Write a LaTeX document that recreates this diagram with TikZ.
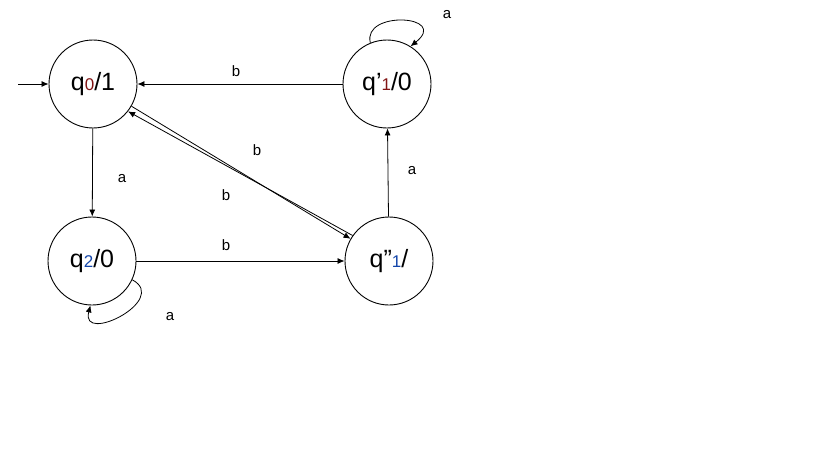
\documentclass[tikz,border=0pt]{standalone}
\usepackage{fontspec}
\setmainfont{Liberation Sans}
\usetikzlibrary{arrows.meta}
\begin{document}
\begin{tikzpicture}[x=1pt,y=-1pt,
  st/.style={circle,draw,line width=0.9pt,minimum size=88pt,inner sep=0pt,font=\fontsize{25}{25}\selectfont},
  lbl/.style={font=\fontsize{15}{15}\selectfont},
  ar/.style={-{Latex[length=7pt,width=6pt]},line width=0.8pt}]
\useasboundingbox (0,0) rectangle (819,460);
\definecolor{sr}{RGB}{130,20,20}\definecolor{sb}{RGB}{20,70,170}
\node[st] (q0) at (93,84) {q{\fontsize{17}{17}\selectfont\color{sr}0}/1};
\node[st] (q1a) at (387,84) {q'{\fontsize{17}{17}\selectfont\color{sr}1}/0};
\node[st] (q2) at (92,261) {q{\fontsize{17}{17}\selectfont\color{sb}2}/0};
\node[st] (q1b) at (389,261) {q''{\fontsize{17}{17}\selectfont\color{sb}1}/};
\coordinate (init) at (18,84);
\draw[ar] (init) -- (q0);
\draw[ar] (q0) -- (q2);
\draw[ar] (q2) -- (q1b);
\draw[ar] (q1b) -- (q1a);
\draw[ar] (q1a) -- (q0);
\draw[ar] (q0.-30) -- (q1b.150);
\draw[ar] (q1b.145) -- (q0.-38);
\draw[ar] (q1a.112) .. controls (362,10) and (450,15) .. (q1a.58);
\draw[ar] (q2.-25) .. controls (170,300) and (80,345) .. (q2.-92);
\node[lbl] (l1) at (236,71) {b};
\node[lbl] (l2) at (257,150) {b};
\node[lbl] (l3) at (226,195) {b};
\node[lbl] (l4) at (122,179) {a};
\node[lbl] (l5) at (226,245) {b};
\node[lbl] (l6) at (412,171) {a};
\node[lbl] (l7) at (170,317) {a};
\node[lbl] (l8) at (447,15) {a};
\end{tikzpicture}
\end{document}
